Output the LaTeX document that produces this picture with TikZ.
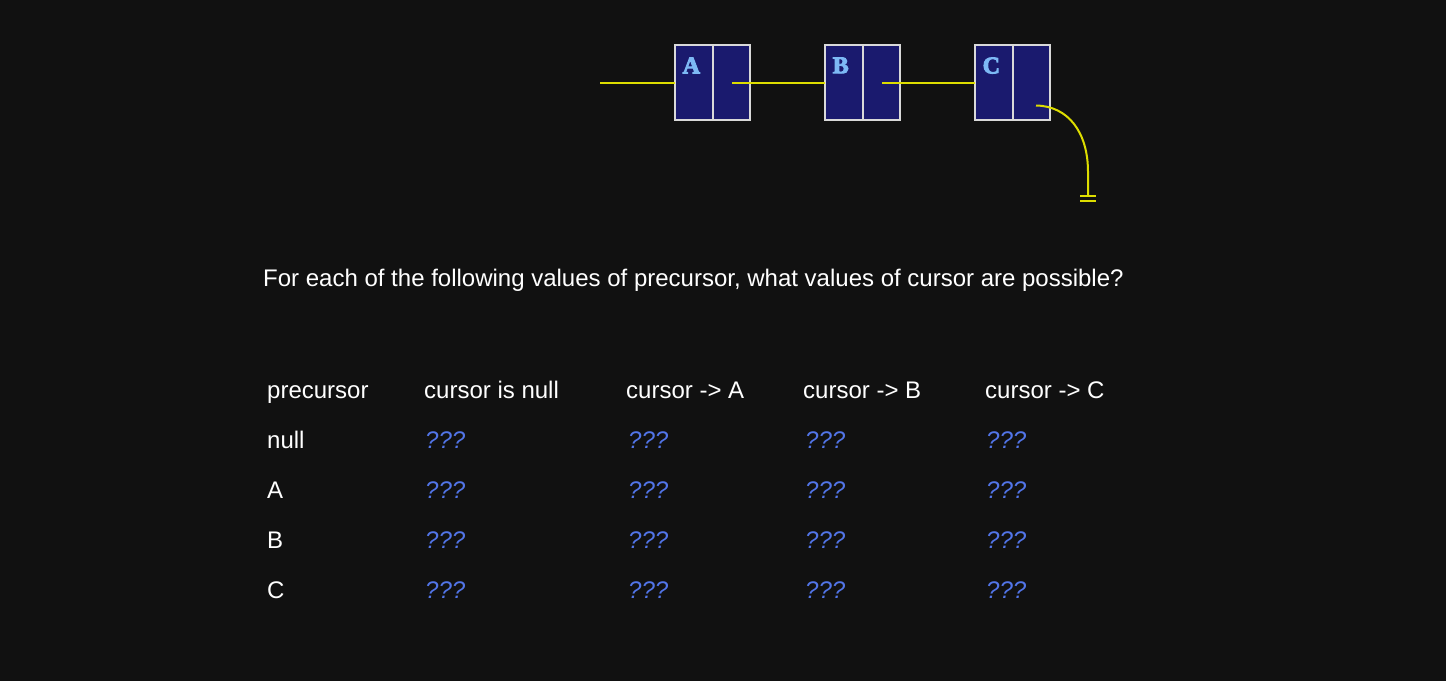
\documentclass[tikz,border=0pt]{standalone}
\usepackage{fontspec}
\setmainfont{Liberation Sans}
\newfontfamily\serifb{Liberation Serif}[BoldFont={Liberation Serif Bold}]
\newcommand{\thicktext}[1]{\special{pdf:literal direct 2 Tr 0.9 w}#1\special{pdf:literal direct 0 Tr}}
\definecolor{bg}{HTML}{111111}
\definecolor{boxfill}{HTML}{1A1A6E}
\definecolor{lettc}{HTML}{7DB9F5}
\definecolor{qc}{HTML}{5275E8}
\definecolor{wire}{HTML}{DDDD00}
\tikzset{
  cell/.style={draw=white!85!black, fill=boxfill, line width=2pt, minimum width=75pt, minimum height=75pt, inner sep=0pt, outer sep=0pt},
  divider/.style={draw=white!85!black, line width=2pt},
  lett/.style={anchor=north west, inner sep=0pt, text=lettc, font=\serifb\bfseries\fontsize{24}{24}\selectfont},
  link/.style={draw=wire, line width=2pt},
  txt/.style={anchor=base west, inner sep=0pt, text=white, font=\fontsize{24}{28}\selectfont},
  qq/.style={anchor=base west, inner sep=0pt, text=qc, font=\itshape\fontsize{24}{28}\selectfont}
}
\begin{document}
\begin{tikzpicture}[x=1pt,y=-1pt]
\fill[bg] (0,0) rectangle (1446,681);
\useasboundingbox (0,0) rectangle (1446,681);
% boxes
\node[cell] (boxA) at (712.5,82.5) {};
\node[cell] (boxB) at (862.5,82.5) {};
\node[cell] (boxC) at (1012.5,82.5) {};
\draw[divider] (boxA.north) -- (boxA.south);
\draw[divider] (boxB.north) -- (boxB.south);
\draw[divider] (boxC.north) -- (boxC.south);
\node[lett] (la) at (682.5,57.3) {\thicktext{A}};
\node[lett] (lb) at (832.5,57.3) {\thicktext{B}};
\node[lett] (lc) at (982.5,57.3) {\thicktext{C}};
% links
\coordinate (head) at (600,83);
\coordinate (pa) at (732,83);
\coordinate (pb) at (882,83);
\coordinate (pc) at (1036,105.5);
\coordinate (gnd) at (1088,196);
\draw[link] (head) -- (boxA.west |- head);
\draw[link] (pa) -- (boxB.west |- pa);
\draw[link] (pb) -- (boxC.west |- pb);
\draw[link] (pc) .. controls (1068,106) and (1088,132) .. (1088,172) -- (gnd);
\coordinate (g1) at (1080,196);
\coordinate (g2) at (1096,196);
\coordinate (g3) at (1080,200.5);
\coordinate (g4) at (1096,200.5);
\draw[link] (g1) -- (g2);
\draw[link] (g3) -- (g4);
% question
\node[txt] (q) at (263,286) {For each of the following values of precursor, what values of cursor are possible?};
% table header
\node[txt] (h0) at (267,398) {precursor};
\node[txt] (h1) at (424,398) {cursor is null};
\node[txt] (h2) at (626,398) {cursor -> A};
\node[txt] (h3) at (803,398) {cursor -> B};
\node[txt] (h4) at (985,398) {cursor -> C};
% rows
\foreach \lab/\y in {null/448, A/498, B/548, C/598} {
  \node[txt] (r\lab) at (267,\y) {\lab};
  \node[qq] (q1\lab) at (425,\y) {???};
  \node[qq] (q2\lab) at (628,\y) {???};
  \node[qq] (q3\lab) at (805,\y) {???};
  \node[qq] (q4\lab) at (986,\y) {???};
}
\end{tikzpicture}
\end{document}
